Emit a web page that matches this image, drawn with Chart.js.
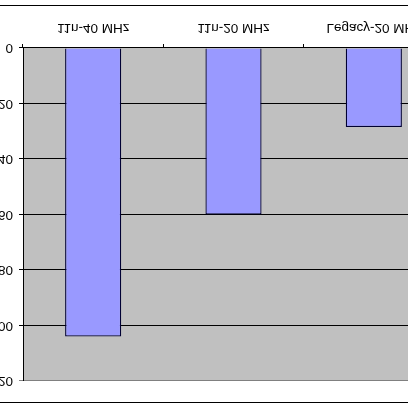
<!DOCTYPE html>
<html>
<head>
<meta charset="utf-8">
<script src="https://cdn.jsdelivr.net/npm/chart.js@4/dist/chart.umd.min.js"></script>
<style>
  html, body { margin: 0; padding: 0; background: #ffffff; overflow: hidden; width: 408px; height: 408px; }
  #wrap { position: absolute; left: 0; top: 0; width: 460px; height: 408px; }
  #c { display: block; transform: scaleY(-1); }
</style>
</head>
<body>
<div id="wrap"><canvas id="c" width="460" height="408"></canvas></div>
<script>
const categories = ["11n-40 MHz", "11n-20 MHz", "Legacy-20 MHz"];
const throughput = [104, 60, 28.5];
const yTicks = [0, 20, 40, 60, 80, 100, 120];

const plotBg = {
  id: 'plotBg',
  beforeDraw(chart) {
    const { ctx, chartArea: a } = chart;
    ctx.save();
    ctx.fillStyle = '#c0c0c0';
    ctx.fillRect(a.left, a.top, a.right - a.left, a.bottom - a.top);
    ctx.restore();
  },
  afterDraw(chart) {
    const { ctx, width } = chart;
    ctx.save();
    ctx.strokeStyle = '#000000';
    ctx.lineWidth = 1;
    ctx.beginPath();
    ctx.moveTo(0, 5.5); ctx.lineTo(width, 5.5);
    ctx.moveTo(0, 402.5); ctx.lineTo(width, 402.5);
    ctx.stroke();
    ctx.restore();
  }
};

new Chart(document.getElementById('c'), {
  type: 'bar',
  data: {
    labels: categories,
    datasets: [{
      data: throughput,
      backgroundColor: '#9999ff',
      borderColor: '#000033',
      borderWidth: 1.3,
      categoryPercentage: 1.0,
      barPercentage: 0.4
    }]
  },
  options: {
    responsive: false,
    animation: false,
    devicePixelRatio: 1,
    layout: { padding: { top: 27, bottom: 0, left: 0, right: 16 } },
    plugins: { legend: { display: false }, tooltip: { enabled: false } },
    scales: {
      x: {
        position: 'bottom',
        afterFit(s) { s.height = 48; },
        grid: { display: true, offset: true, drawOnChartArea: false, drawTicks: true, tickLength: 4, color: '#000000' },
        border: { display: true, color: '#000000', width: 1 },
        ticks: { color: '#000000', padding: 8, maxRotation: 0, autoSkip: false,
                 font: { family: "'Liberation Sans', Arial, sans-serif", size: 13.5 } }
      },
      y: {
        min: yTicks[0],
        max: yTicks[yTicks.length - 1],
        afterFit(s) { s.width = 23; },
        afterBuildTicks(s) { s.ticks = yTicks.map(v => ({ value: v })); },
        grid: {
          color: (c) => (c.tick && c.tick.value === yTicks[yTicks.length - 1]) ? '#808080' : '#000000',
          drawTicks: true, tickLength: 4, lineWidth: 1
        },
        border: { display: true, color: '#000000', width: 1 },
        ticks: { color: '#000000', padding: 6,
                 font: { family: "'Liberation Sans', Arial, sans-serif", size: 13.5 } }
      }
    }
  },
  plugins: [plotBg]
});
</script>
</body>
</html>
